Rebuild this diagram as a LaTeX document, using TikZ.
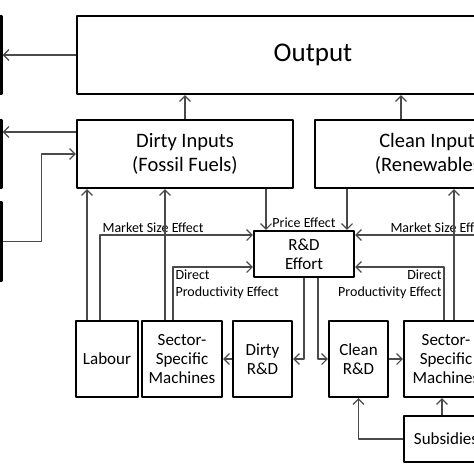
\documentclass[tikz,border=0pt]{standalone}
\usepackage{fontspec}
\setmainfont{Carlito}
\usetikzlibrary{arrows.meta}
\definecolor{flowgrey}{HTML}{4A4A4A}

\begin{document}
\begin{tikzpicture}[
  x=1pt,
  y=-1pt,
  line join=round,
  box/.style={draw=black,line width=2.4pt,fill=white,inner sep=0pt,align=center,
    font=\fontsize{17}{19}\selectfont},
  bigbox/.style={box,font=\fontsize{20.5}{24}\selectfont},
  flow/.style={draw=flowgrey,line width=1.1pt,-{Straight Barb[length=5.5pt,width=11pt]}},
  effect/.style={font=\fontsize{14}{17}\selectfont,inner sep=2pt}
]
  % Match the cropped artwork frame.
  \useasboundingbox (0,0) rectangle (474,474);

  % Boxes that are cut off at the left edge.
  \node[box,minimum width=63pt,minimum height=78pt] (leftA) at (-30,55) {};
  \node[box,minimum width=63pt,minimum height=68pt] (leftB) at (-30,154) {};
  \node[box,minimum width=63pt,minimum height=79pt] (leftC) at (-30,241.5) {};

  % Top row: output and the two input sectors.
  \node[box,minimum width=472pt,minimum height=78pt,font=\fontsize{27}{31}\selectfont]
    (output) at (313,55) {Output};
  \node[bigbox,minimum width=216pt,minimum height=68pt] (dirty) at (185,154)
    {Dirty Inputs\\(Fossil Fuels)};
  \node[bigbox,minimum width=232pt,minimum height=68pt] (clean) at (431,154)
    {Clean Inputs\\(Renewables)};

  % Middle: research effort.
  \node[box,minimum width=100pt,minimum height=46pt] (effort) at (304,254) {R\&D\\Effort};

  % Bottom row.
  \node[box,minimum width=62pt,minimum height=76pt] (labour) at (107,359) {Labour};
  \node[box,minimum width=80pt,minimum height=76pt] (machd) at (182,359) {Sector-\\Specific\\Machines};
  \node[box,minimum width=59pt,minimum height=76pt] (dirtyrd) at (262.5,359) {Dirty\\R\&D};
  \node[box,minimum width=59pt,minimum height=76pt] (cleanrd) at (358.5,359) {Clean\\R\&D};
  \node[box,minimum width=84pt,minimum height=76pt] (machc) at (446,359) {Sector-\\Specific\\Machines};
  \node[box,minimum width=84pt,minimum height=46pt] (subs) at (446,439) {Subsidies};

  % Links to the cut-off boxes.
  \coordinate (dirtyout) at ([yshift=22pt]dirty.west);
  \draw[flow] (output.west) -- (output.west -| leftA.east);
  \draw[flow] (dirtyout) -- (dirtyout -| leftB.east);
  \draw[flow] (leftC.east) -- ++(38.5,0) |- (dirty.west);

  % Inputs feed the output.
  \coordinate (cleanup) at ([xshift=-30pt]clean.north);
  \draw[flow] (dirty.north) -- (dirty.north |- output.south);
  \draw[flow] (cleanup) -- (cleanup |- output.south);

  % Labour and machines on the dirty side.
  \coordinate (labA) at ([xshift=-20pt]labour.north);
  \coordinate (labB) at ([xshift=-7pt]labour.north);
  \coordinate (msL) at ([yshift=19pt]effort.west);
  \draw[flow] (labA) -- (labA |- dirty.south);
  \draw[flow] (labB) |- node[effect,pos=0.5,anchor=south west] {Market Size Effect} (msL);

  \coordinate (mdA) at ([xshift=-17pt]machd.north);
  \coordinate (mdB) at ([xshift=-9pt]machd.north);
  \coordinate (dpL) at ([yshift=-13pt]effort.west);
  \draw[flow] (mdA) -- (mdA |- dirty.south);
  \draw[flow] (mdB) |- node[effect,pos=0.5,anchor=north west,align=left]
    {Direct\\Productivity Effect} (dpL);

  % Price effect from both input sectors.
  \coordinate (priceD) at ([xshift=-38pt]effort.north);
  \coordinate (priceC) at ([xshift=43pt]effort.north);
  \draw[flow] (priceD |- dirty.south) -- (priceD);
  \draw[flow] (priceC |- clean.south) -- (priceC);
  \node[effect,anchor=south] (pricelbl) at (effort.north) {Price Effect};

  % Clean side effects.
  \coordinate (msR) at (490,235);
  \coordinate (msRend) at ([yshift=19pt]effort.east);
  \coordinate (dpR) at ([yshift=-13pt]effort.east);
  \coordinate (mcA) at ([xshift=8pt]machc.north);
  \coordinate (mcB) at ([xshift=-2pt]machc.north);
  \draw[flow] (msR) -- node[effect,pos=0.757,anchor=south west] {Market Size Effect} (msRend);
  \draw[flow] (mcB) |- node[effect,pos=0.5,anchor=north east,align=right]
    {Direct\\Productivity Effect} (dpR);
  \draw[flow] (mcA) -- (mcA |- clean.south);

  % Research effort splits into the two R&D boxes.
  \coordinate (effB) at ([xshift=14pt]effort.south);
  \draw[flow] (effort.south) |- (dirtyrd.east);
  \draw[flow] (effB) |- (cleanrd.west);
  \draw[flow] (dirtyrd.west) -- (machd.east);
  \draw[flow] (cleanrd.east) -- (machc.west);

  % Subsidies.
  \coordinate (subA) at ([xshift=-4pt]subs.north);
  \draw[flow] (subs.west) -| (cleanrd.south);
  \draw[flow] (subA) -- (subA |- machc.south);
\end{tikzpicture}
\end{document}
